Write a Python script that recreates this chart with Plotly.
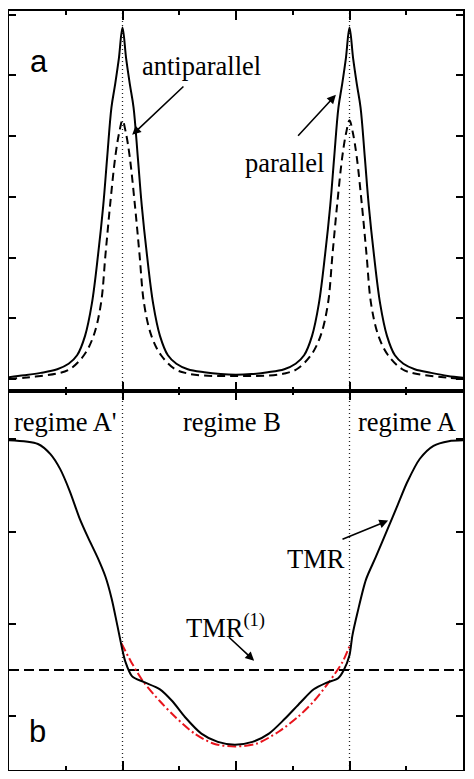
import plotly.graph_objects as go
from plotly.subplots import make_subplots

# --- panel a: transmission peaks (arbitrary units) ---
par_x = [0.0, 0.27, 0.56, 0.85, 1.05, 1.20, 1.34, 1.46, 1.57, 1.66, 1.73, 1.805, 1.87, 1.935, 2.0,
         2.065, 2.13, 2.195, 2.27, 2.34, 2.43, 2.54, 2.66, 2.80, 2.95, 3.15, 3.44, 3.73, 4.0,
         4.27, 4.56, 4.85, 5.05, 5.20, 5.34, 5.46, 5.57, 5.66, 5.73, 5.805, 5.87, 5.935, 6.0,
         6.065, 6.13, 6.195, 6.27, 6.34, 6.43, 6.54, 6.66, 6.80, 6.95, 7.15, 7.44, 7.73, 8.0]
par_y = [0.03, 0.06, 0.10, 0.16, 0.25, 0.39, 0.71, 1.24, 2.05, 2.85, 3.65, 4.47, 4.85, 5.27, 5.79,
         5.27, 4.85, 4.47, 3.65, 2.85, 2.05, 1.24, 0.71, 0.39, 0.25, 0.16, 0.11, 0.08, 0.07,
         0.08, 0.11, 0.16, 0.25, 0.39, 0.71, 1.24, 2.05, 2.85, 3.65, 4.47, 4.85, 5.27, 5.79,
         5.27, 4.85, 4.47, 3.65, 2.85, 2.05, 1.24, 0.71, 0.39, 0.25, 0.16, 0.10, 0.05, 0.02]

anti_x = [0.0, 0.27, 0.56, 0.85, 1.07, 1.32, 1.49, 1.62, 1.70, 1.78, 1.873, 1.94, 2.0,
          2.06, 2.127, 2.22, 2.30, 2.38, 2.51, 2.68, 2.93, 3.15, 3.44, 3.73, 4.0,
          4.27, 4.56, 4.85, 5.07, 5.32, 5.49, 5.62, 5.70, 5.78, 5.873, 5.94, 6.0,
          6.06, 6.127, 6.22, 6.30, 6.38, 6.51, 6.68, 6.93, 7.15, 7.44, 7.73, 8.0]
anti_y = [0.0, 0.02, 0.05, 0.09, 0.16, 0.39, 0.71, 1.24, 2.05, 2.85, 3.66, 4.05, 4.26,
          4.05, 3.66, 2.85, 2.05, 1.24, 0.71, 0.39, 0.16, 0.09, 0.055, 0.05, 0.05,
          0.05, 0.055, 0.09, 0.16, 0.39, 0.71, 1.24, 2.05, 2.85, 3.66, 4.05, 4.26,
          4.05, 3.66, 2.85, 2.05, 1.24, 0.71, 0.39, 0.16, 0.09, 0.05, 0.02, 0.0]

# --- panel b: TMR ---
tmr_x = [0.0, 0.51, 0.73, 0.90, 1.07, 1.24, 1.39, 1.56, 1.70, 1.81, 1.90, 1.98, 2.05, 2.17,
         2.37, 2.66, 2.88, 3.10, 3.39, 3.68, 3.98, 4.29, 4.58, 4.86, 5.14, 5.37, 5.59, 5.80,
         5.90, 6.00, 6.05, 6.14, 6.29, 6.46, 6.68, 6.85, 7.02, 7.24, 7.48, 7.75, 8.0]
tmr_y = [2.99, 2.95, 2.84, 2.68, 2.44, 2.15, 1.94, 1.72, 1.51, 1.27, 1.01, 0.77, 0.59, 0.43,
         0.37, 0.29, 0.16, -0.01, -0.19, -0.28, -0.31, -0.28, -0.19, -0.03, 0.15, 0.29, 0.36, 0.41,
         0.50, 0.66, 0.87, 1.12, 1.48, 1.72, 2.04, 2.29, 2.54, 2.79, 2.93, 2.98, 2.99]

tmr1_x = [1.98, 2.15, 2.37, 2.66, 2.93, 3.27, 3.61, 3.98, 4.36, 4.75, 5.09, 5.37, 5.64, 5.88, 6.02]
tmr1_y = [0.79, 0.59, 0.37, 0.16, -0.01, -0.19, -0.30, -0.33, -0.30, -0.17, -0.01, 0.16, 0.37, 0.59, 0.79]

level_x = [0.0, 8.0]
level_y = [0.5, 0.5]

boundary_x = [2.0, 6.0]

fig = make_subplots(rows=2, cols=1, shared_xaxes=True, vertical_spacing=0)

fig.add_trace(go.Scatter(x=par_x, y=par_y, mode="lines", name="parallel",
                         line=dict(color="black", width=2, shape="spline", smoothing=1.0)), row=1, col=1)
fig.add_trace(go.Scatter(x=anti_x, y=anti_y, mode="lines", name="antiparallel",
                         line=dict(color="black", width=2, dash="8px,5px", shape="spline", smoothing=1.0)),
              row=1, col=1)

fig.add_trace(go.Scatter(x=level_x, y=level_y, mode="lines",
                         line=dict(color="black", width=2, dash="10px,5px")), row=2, col=1)
fig.add_trace(go.Scatter(x=tmr1_x, y=tmr1_y, mode="lines", name="TMR(1)",
                         line=dict(color="#e8141c", width=2, dash="9px,3px,2px,3px", shape="spline", smoothing=0.8)),
              row=2, col=1)
fig.add_trace(go.Scatter(x=tmr_x, y=tmr_y, mode="lines", name="TMR",
                         line=dict(color="black", width=2, shape="spline", smoothing=0.8)), row=2, col=1)

# regime boundaries through both panels
for bx in boundary_x:
    fig.add_shape(type="line", xref="x", yref="paper", x0=bx, x1=bx, y0=0, y1=1,
                  line=dict(color="#222", width=1.3, dash="1px,3px"), layer="below")

serif = dict(family="Liberation Serif", size=26.5, color="black")
sans = dict(family="Liberation Sans", size=31, color="black")

texts = [
    ("x", "y", 0.52, 5.23, "a", sans),
    ("x", "y", 3.39, 5.15, "antiparallel", serif),
    ("x", "y", 4.86, 3.55, "parallel", serif),
    ("x2", "y2", 0.51, -0.17, "b", sans),
    ("x2", "y2", 1.0, 3.19, "regime A'", serif),
    ("x2", "y2", 3.93, 3.19, "regime B", serif),
    ("x2", "y2", 7.02, 3.19, "regime A", serif),
    ("x2", "y2", 5.41, 1.70, "TMR", serif),
    ("x2", "y2", 3.82, 0.98, "TMR<sup>(1)</sup>", serif),
]
for xr, yr, tx, ty, t, f in texts:
    fig.add_annotation(xref=xr, yref=yr, x=tx, y=ty, text=t, showarrow=False,
                       font=f, xanchor="center", yanchor="middle")

arrows = [
    ("x", "y", 2.17, 4.02, 3.10, 4.84),
    ("x", "y", 5.76, 4.68, 5.07, 3.98),
    ("x2", "y2", 6.68, 2.12, 5.85, 1.91),
    ("x2", "y2", 4.32, 0.60, 3.85, 0.87),
]
for xr, yr, hx, hy, tx, ty in arrows:
    fig.add_annotation(xref=xr, yref=yr, axref=xr, ayref=yr, x=hx, y=hy, ax=tx, ay=ty,
                       text="", showarrow=True, arrowhead=2, arrowsize=1.1,
                       arrowwidth=1.6, arrowcolor="black")

axis_style = dict(showline=True, linecolor="black", linewidth=2, mirror="ticks",
                  showgrid=False, zeroline=False, showticklabels=False,
                  ticks="inside", tickcolor="black", tickwidth=1.5)

fig.update_xaxes(range=[0, 8], tickvals=[0, 2, 4, 6, 8], ticklen=9,
                 minor=dict(tickvals=[1, 3, 5, 7], ticks="inside", ticklen=4,
                            tickcolor="black", tickwidth=1.5),
                 **axis_style)
fig.update_yaxes(ticklen=7, **axis_style)
fig.update_yaxes(range=[-0.19, 6.06], tickvals=[0, 1, 2, 3, 4, 5, 6], row=1, col=1)
fig.update_yaxes(range=[-0.585, 3.53], tickvals=[0, 1, 2, 3], row=2, col=1)

# page body has an 8px margin, so keep the figure inside the window
fig.update_layout(
    width=458, height=763,
    margin=dict(l=1, r=1, t=1, b=1),
    paper_bgcolor="white", plot_bgcolor="white",
    showlegend=False,
)

fig.write_html("out.html")
